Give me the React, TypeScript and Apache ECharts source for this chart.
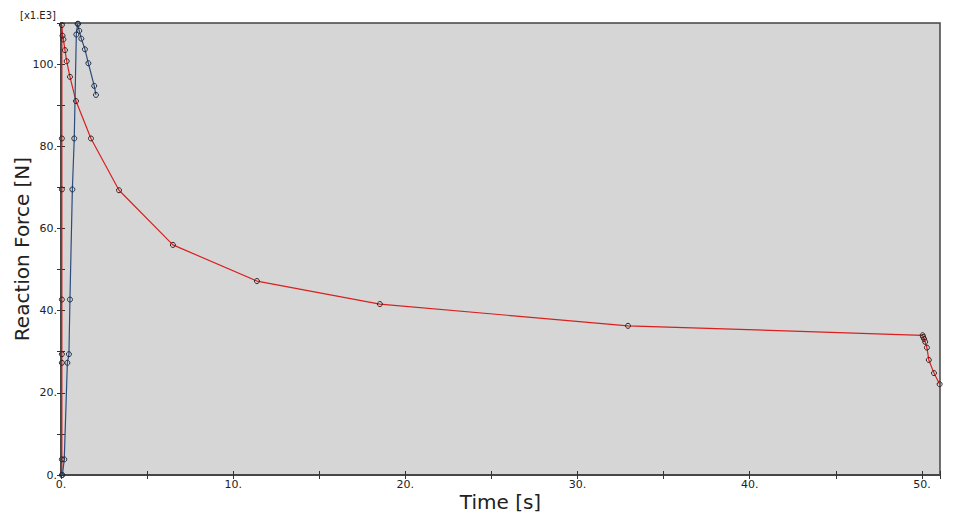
import React, { useEffect, useRef } from 'react';
import * as echarts from 'echarts';

// values in kN (axis is scaled x1.E3)
const redTime = [0.05, 0.05, 0.05, 0.05, 0.05, 0.05, 0.05, 0.05, 0.09, 0.14, 0.23, 0.33, 0.52, 0.87, 1.74, 3.37, 6.5, 11.38, 18.52, 32.93, 50.04, 50.07, 50.13, 50.19, 50.29, 50.4, 50.7, 51.03];
const redForce = [0, 3.8, 27.3, 29.4, 42.7, 69.5, 81.9, 109.5, 106.9, 106, 103.4, 100.7, 96.9, 91, 81.9, 69.3, 56, 47.2, 41.6, 36.3, 34, 33.6, 33.1, 32.4, 31, 28, 24.8, 22.1];

const blueTime = [0.08, 0.19, 0.37, 0.46, 0.52, 0.66, 0.77, 0.89, 0.96, 1.0, 1.06, 1.18, 1.39, 1.59, 1.93, 2.03];
const blueForce = [0, 3.8, 27.3, 29.4, 42.7, 69.5, 81.9, 107.2, 109.8, 109.8, 108.1, 106.2, 103.6, 100.2, 94.7, 92.5];

const xMax = 51.05;
const yMax = 110;

const font = 'DejaVu Sans, Verdana, sans-serif';

const zip = (xs: number[], ys: number[]) => xs.map((x, i) => [x, ys[i]]);

const tickFmt = (step: number) => (v: number) =>
  Math.abs(v / step - Math.round(v / step)) < 1e-6 ? `${Math.round(v)}.` : '';

const App = () => {
  const chartRef = useRef<any>(null);

  useEffect(() => {
    const chart = echarts.init(chartRef.current, null, { renderer: 'svg' });

    const axisLine = { show: true, lineStyle: { color: '#444', width: 1.5 } };
    const tick = { show: true, inside: true, length: 4, lineStyle: { color: '#333' } };

    const option: any = {
      animation: false,
      grid: {
        left: 61,
        top: 23,
        right: 19,
        bottom: 48,
        containLabel: false,
        outerBoundsMode: 'none',
        show: true,
        backgroundColor: '#d6d6d6',
        borderColor: '#444',
        borderWidth: 1.5,
      },
      graphic: [
        {
          type: 'text',
          left: 20,
          top: 10,
          style: { text: '[x1.E3]', font: `10px ${font}`, fill: '#222' },
        },
      ],
      xAxis: [
        {
          type: 'value',
          min: 0,
          max: xMax,
          interval: 5,
          position: 'bottom',
          name: 'Time [s]',
          nameLocation: 'middle',
          nameGap: 17,
          nameMoveOverlap: false,
          nameTextStyle: { fontFamily: font, fontSize: 20, color: '#222' },
          axisLine,
          axisTick: tick,
          splitLine: { show: false },
          axisLabel: {
            fontFamily: font,
            fontSize: 11,
            color: '#222',
            margin: 4,
            formatter: tickFmt(10),
          },
        },
        {
          type: 'value',
          min: 0,
          max: xMax,
          interval: 5,
          position: 'top',
          axisLine,
          axisTick: tick,
          splitLine: { show: false },
          axisLabel: { show: false },
        },
      ],
      yAxis: [
        {
          type: 'value',
          min: 0,
          max: yMax,
          interval: 10,
          position: 'left',
          name: 'Reaction Force [N]',
          nameLocation: 'middle',
          nameGap: 29,
          nameMoveOverlap: false,
          nameTextStyle: { fontFamily: font, fontSize: 20, color: '#222' },
          axisLine,
          axisTick: tick,
          splitLine: { show: false },
          axisLabel: {
            fontFamily: font,
            fontSize: 11,
            color: '#222',
            margin: 4,
            formatter: tickFmt(20),
          },
        },
        {
          type: 'value',
          min: 0,
          max: yMax,
          interval: 10,
          position: 'right',
          axisLine,
          axisTick: tick,
          splitLine: { show: false },
          axisLabel: { show: false },
        },
      ],
      series: [
        {
          type: 'line',
          data: zip(redTime, redForce),
          symbol: 'circle',
          symbolSize: 5,
          lineStyle: { color: '#d82020', width: 1.2 },
          itemStyle: { color: 'rgba(0,0,0,0)', borderColor: '#3a2020', borderWidth: 1 },
        },
        {
          type: 'line',
          data: zip(blueTime, blueForce),
          symbol: 'circle',
          symbolSize: 5,
          lineStyle: { color: '#2b4c7c', width: 1.2 },
          itemStyle: { color: 'rgba(0,0,0,0)', borderColor: '#1c2c44', borderWidth: 1 },
        },
      ],
    };

    chart.setOption(option);

    return () => {
      chart.dispose();
    };
  }, []);

  return (
    <div
      ref={chartRef}
      style={{ position: 'fixed', left: 0, top: 0, width: '959px', height: '523px', background: '#fff' }}
    />
  );
};

export default App;
